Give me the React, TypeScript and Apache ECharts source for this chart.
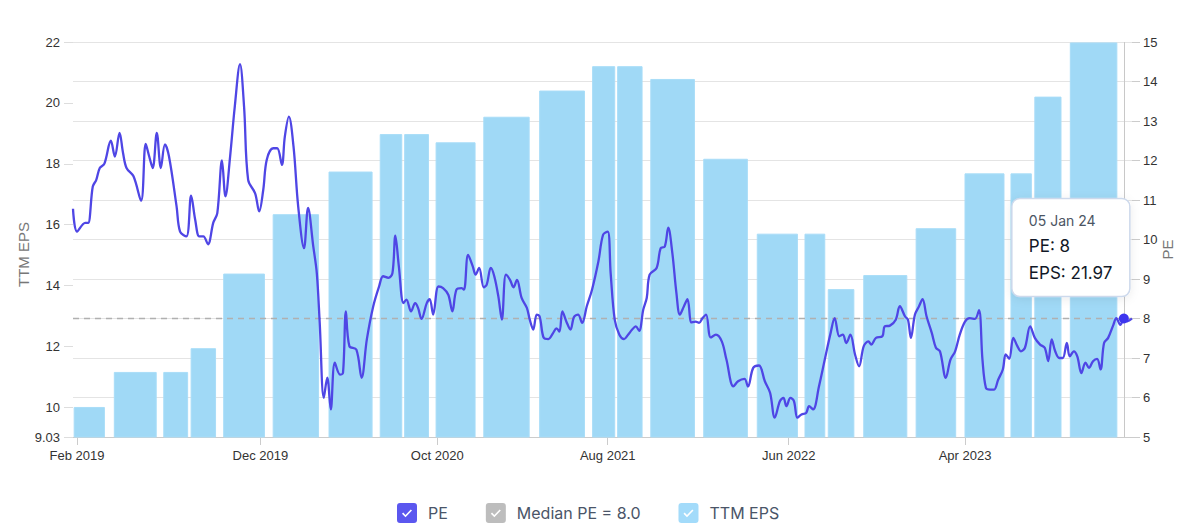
import React, { useEffect, useRef } from 'react';
import * as echarts from 'echarts';

// ---------- data ----------
const START_DATE = '2019-01-25';
const DAY_MS = 86400000;

// PE ratio: [days since START_DATE, PE]
const pePoints: [number, number][] = [
  [0, 10.78], [7, 10.2], [21, 10.42], [26, 10.42], [34, 11.34], [40, 11.51], [46, 11.81], [54, 11.92],
  [65, 12.5], [72, 12.1], [80, 12.7], [86, 12.19], [92, 11.81], [104, 11.6], [117, 10.98], [125, 12.42],
  [131, 12.1], [137, 11.81], [144, 12.7], [151, 11.81], [158, 12.41], [165, 12.1], [178, 10.84], [184, 10.2],
  [195, 10.08], [203, 11.11], [210, 10.5], [217, 10.08], [224, 10.08], [232, 9.88], [241, 10.42], [248, 10.67],
  [256, 12.0], [262, 11.09], [270, 12.1], [278, 13.36], [287, 14.44], [294, 13.36], [301, 11.51], [313, 11.17],
  [320, 10.71], [327, 11.26], [333, 12.02], [344, 12.31], [351, 12.31], [359, 11.89], [364, 12.6], [371, 13.11],
  [379, 12.35], [387, 10.84], [397, 9.78], [404, 10.8], [413, 9.82], [419, 9.15], [424, 7.89], [431, 5.99],
  [437, 6.5], [443, 5.7], [450, 6.88], [459, 6.58], [464, 6.62], [469, 8.18], [475, 7.3], [487, 7.21],
  [496, 6.5], [505, 7.47], [516, 8.31], [526, 8.81], [533, 9.07], [542, 9.03], [549, 9.15], [554, 10.1],
  [560, 9.32], [568, 8.39], [573, 8.48], [581, 8.18], [588, 8.39], [593, 8.27], [599, 7.99], [608, 8.39],
  [613, 8.49], [619, 8.1], [628, 8.81], [636, 8.77], [645, 8.6], [652, 8.18], [659, 8.73], [668, 8.77],
  [672, 8.73], [679, 9.61], [687, 9.32], [692, 9.11], [698, 9.28], [706, 8.79], [711, 8.86], [718, 9.28],
  [724, 9.07], [731, 8.56], [737, 7.97], [744, 9.11], [751, 8.98], [757, 8.79], [763, 8.98], [771, 8.52],
  [780, 8.27], [785, 7.97], [791, 7.72], [797, 8.1], [802, 8.05], [809, 7.51], [817, 7.48], [825, 7.63],
  [831, 7.75], [836, 7.67], [841, 8.18], [848, 7.92], [855, 7.72], [861, 8.04], [868, 8.1], [875, 7.89],
  [883, 8.31], [892, 8.73], [903, 9.45], [911, 10.12], [919, 10.2], [924, 9.15], [931, 7.97], [939, 7.59],
  [947, 7.48], [954, 7.59], [961, 7.72], [967, 7.8], [973, 7.69], [980, 8.22], [986, 8.52], [991, 9.11],
  [1003, 9.28], [1010, 9.78], [1017, 9.82], [1023, 10.3], [1030, 9.66], [1037, 8.65], [1043, 8.1], [1050, 8.31],
  [1056, 8.49], [1063, 7.9], [1070, 7.92], [1076, 7.89], [1082, 8.01], [1088, 8.1], [1096, 7.52], [1105, 7.59],
  [1115, 7.42], [1123, 6.96], [1135, 6.28], [1143, 6.41], [1154, 6.47], [1160, 6.28], [1169, 6.75], [1179, 6.81],
  [1189, 6.41], [1198, 6.12], [1206, 5.49], [1215, 5.91], [1221, 5.99], [1226, 5.78], [1233, 5.99], [1239, 5.91],
  [1245, 5.49], [1252, 5.57], [1260, 5.61], [1265, 5.78], [1272, 5.7], [1282, 6.28], [1292, 6.96], [1302, 7.63],
  [1309, 8.01], [1317, 7.55], [1323, 7.59], [1329, 7.38], [1336, 7.59], [1344, 7.09], [1351, 6.79], [1359, 7.3],
  [1367, 7.42], [1372, 7.34], [1380, 7.51], [1391, 7.55], [1395, 7.8], [1404, 7.82], [1414, 7.97], [1421, 8.31],
  [1430, 8.05], [1435, 7.97], [1440, 7.51], [1447, 8.1], [1454, 8.31], [1460, 8.49], [1467, 8.05], [1476, 7.63],
  [1483, 7.26], [1490, 7.17], [1500, 6.5], [1508, 6.96], [1516, 7.17], [1524, 7.59], [1533, 7.92], [1541, 8.01],
  [1550, 7.99], [1557, 8.21], [1563, 6.96], [1569, 6.24], [1576, 6.2], [1583, 6.2], [1590, 6.45], [1598, 6.71],
  [1603, 7.09], [1609, 6.98], [1616, 7.51], [1623, 7.3], [1629, 7.17], [1636, 7.26], [1645, 7.8], [1653, 7.51],
  [1662, 7.34], [1670, 7.26], [1676, 6.92], [1682, 7.47], [1688, 7.17], [1695, 7.0], [1701, 7.0], [1708, 7.38],
  [1713, 7.04], [1720, 7.17], [1726, 7.04], [1733, 6.62], [1740, 6.88], [1746, 6.75], [1753, 6.92], [1760, 6.98],
  [1766, 6.71], [1772, 7.38], [1779, 7.51], [1788, 7.84], [1793, 8.01], [1800, 7.84], [1806, 8.0], [1812, 7.93],
  [1820, 8.0],
];

// TTM EPS blocks: [first day, last day (days since START_DATE), EPS]
const epsBlocks: [number, number, number][] = [
  [2, 54, 10.0], [71, 143, 11.15], [156, 197, 11.15], [203, 245, 11.93], [259, 329, 14.38],
  [344, 422, 16.33], [440, 514, 17.73], [528, 565, 18.96], [570, 611, 18.96], [624, 691, 18.69],
  [706, 784, 19.53], [802, 879, 20.39], [893, 931, 21.19], [936, 978, 21.19], [993, 1068, 20.77],
  [1084, 1159, 18.15], [1176, 1245, 15.69], [1258, 1292, 15.69], [1298, 1342, 13.87], [1359, 1433, 14.33],
  [1449, 1517, 15.87], [1533, 1600, 17.67], [1612, 1647, 17.67], [1653, 1698, 20.19], [1714, 1794, 21.97],
];

const medianPE = 8.0;
const hoverDay = 1806; // 05 Jan 24
const xTickDates = ['2019-02-01', '2019-12-13', '2020-10-12', '2021-08-01', '2022-06-08', '2023-04-07'];
const epsAxisMin = 9.03;
const epsAxisMax = 22;
const peAxisMin = 5;
const peAxisMax = 15;

const MONTHS = ['Jan', 'Feb', 'Mar', 'Apr', 'May', 'Jun', 'Jul', 'Aug', 'Sep', 'Oct', 'Nov', 'Dec'];

// ---------- helpers ----------
const startTs = Date.parse(START_DATE + 'T00:00:00Z');
const dayToTs = (d: number) => startTs + d * DAY_MS;
const fmtMonthYear = (v: number) => {
  const dt = new Date(v);
  return `${MONTHS[dt.getUTCMonth()]} ${dt.getUTCFullYear()}`;
};
const fmtTipDate = (v: number) => {
  const dt = new Date(v);
  const dd = String(dt.getUTCDate()).padStart(2, '0');
  const yy = String(dt.getUTCFullYear() % 100).padStart(2, '0');
  return `${dd} ${MONTHS[dt.getUTCMonth()]} ${yy}`;
};

// rounded check-box icon (check cut out)
const CHECK_ICON =
  'path://M3 0H17Q20 0 20 3V17Q20 20 17 20H3Q0 20 0 17V3Q0 0 3 0Z M5 10.8L8.5 14.3L15 7.6L13.8 6.4L8.5 11.9L6.2 9.6Z';

const AXIS_FONT = '"Liberation Sans", Arial, Helvetica, sans-serif';
const UI_FONT = 'Inter, "Noto Sans", sans-serif';

export default function App() {
  const ref = useRef<HTMLDivElement>(null);

  useEffect(() => {
    if (!ref.current) return;
    const chart = echarts.init(ref.current, null, { renderer: 'svg' });

    const peData = pePoints.map(([d, v]) => [dayToTs(d), v]);
    const epsData = epsBlocks.map(([s, e, v]) => [dayToTs(s), dayToTs(e), v]);
    const firstTs = dayToTs(pePoints[0][0]);
    const lastTs = dayToTs(pePoints[pePoints.length - 1][0]);
    const hoverTs = dayToTs(hoverDay);
    const hoverPoint = pePoints.find((p) => p[0] === hoverDay)!;
    const hoverEps = [...epsBlocks].filter((b) => b[0] <= hoverDay).pop()!;
    const tickTs = xTickDates.map((s) => Date.parse(s + 'T00:00:00Z'));
    const medianName = `Median PE = ${medianPE.toFixed(1)}`;

    chart.setOption({
      animation: false,
      backgroundColor: '#ffffff',
      grid: { left: 73, right: 68, top: 42, bottom: 94, outerBoundsMode: 'none' },
      legend: {
        left: 397,
        top: 503,
        padding: 0,
        icon: CHECK_ICON,
        itemWidth: 20,
        itemHeight: 20,
        itemGap: 38,
        selectedMode: false,
        textStyle: { fontFamily: UI_FONT, fontSize: 16, color: '#4a5568', padding: [0, 0, 0, 6] },
        data: [
          { name: 'PE', itemStyle: { color: '#5b57ef', borderWidth: 0 } },
          { name: medianName, itemStyle: { color: '#bdbdbd', borderWidth: 0 } },
          { name: 'TTM EPS', itemStyle: { color: '#a3dbfa', borderWidth: 0 } },
        ],
      },
      xAxis: {
        type: 'value',
        min: firstTs,
        max: lastTs,
        scale: true,
        axisLine: { show: true, lineStyle: { color: '#cccccc', width: 1 } },
        axisTick: { show: true, length: 8, customValues: tickTs, lineStyle: { color: '#cccccc' } },
        axisLabel: {
          customValues: tickTs,
          formatter: (v: number) => fmtMonthYear(v),
          color: '#333333',
          fontSize: 13,
          fontFamily: AXIS_FONT,
          margin: 12,
        },
        splitLine: { show: false },
      },
      yAxis: [
        {
          type: 'value',
          position: 'left',
          min: epsAxisMin,
          max: epsAxisMax,
          splitNumber: 6,
          minInterval: 2,
          maxInterval: 2,
          name: 'TTM EPS',
          nameLocation: 'middle',
          nameGap: 42,
          nameMoveOverlap: false,
          nameTextStyle: { color: '#777777', fontSize: 15, fontFamily: AXIS_FONT, padding: [0, 30, 0, 0] },
          axisLine: { show: false },
          axisTick: { show: true, length: 9, lineStyle: { color: '#dddddd' } },
          axisLabel: { color: '#333333', fontSize: 13, fontFamily: AXIS_FONT, margin: 13 },
          splitLine: { show: false },
        },
        {
          type: 'value',
          position: 'right',
          min: peAxisMin,
          max: peAxisMax,
          interval: 1,
          name: 'PE',
          nameLocation: 'middle',
          nameGap: 28,
          nameMoveOverlap: false,
          nameTextStyle: { color: '#777777', fontSize: 15, fontFamily: AXIS_FONT, padding: [0, 20, 0, 0] },
          axisLine: { show: false },
          axisTick: { show: true, length: 8, lineStyle: { color: '#cccccc' } },
          axisLabel: { color: '#333333', fontSize: 13, fontFamily: AXIS_FONT, margin: 11 },
          splitLine: { show: true, lineStyle: { color: '#e4e4e4', width: 1 } },
        },
      ],
      series: [
        {
          name: 'TTM EPS',
          type: 'custom',
          xAxisIndex: 0,
          yAxisIndex: 0,
          encode: { x: [0, 1], y: 2 },
          data: epsData,
          silent: true,
          z: 1,
          renderItem: (params: any, api: any) => {
            const p0 = api.coord([api.value(0), api.value(2)]);
            const p1 = api.coord([api.value(1), api.value(2)]);
            const cs = params.coordSys;
            const bottom = cs.y + cs.height;
            return {
              type: 'rect',
              shape: { x: p0[0], y: p0[1], width: p1[0] - p0[0], height: bottom - p0[1] },
              style: { fill: '#a0d9f6', stroke: '#a9ddf8', lineWidth: 1 },
            };
          },
        },
        {
          name: medianName,
          type: 'line',
          yAxisIndex: 1,
          data: [
            [firstTs, medianPE],
            [lastTs, medianPE],
          ],
          symbol: 'none',
          silent: true,
          z: 2,
          lineStyle: { color: '#b0b0b0', width: 1.5, type: [6, 5] },
          itemStyle: { color: '#bdbdbd' },
          markLine: {
            silent: true,
            symbol: ['none', 'none'],
            label: { show: false },
            lineStyle: { color: '#c8c8c8', width: 1, type: 'solid' },
            data: [{ xAxis: hoverTs }],
          },
        },
        {
          name: 'PE',
          type: 'line',
          yAxisIndex: 1,
          data: peData,
          smooth: 0.35,
          symbol: 'none',
          silent: true,
          z: 3,
          lineStyle: { color: '#4f46e5', width: 2.3 },
          itemStyle: { color: '#4f46e5' },
          markPoint: {
            silent: true,
            symbol: 'circle',
            symbolSize: 10,
            label: { show: false },
            itemStyle: { color: '#3d35ee' },
            data: [{ coord: [hoverTs, hoverPoint[1]] }],
          },
        },
      ],
    });

    const [px, py] = chart.convertToPixel({ seriesIndex: 2 }, [hoverTs, hoverPoint[1]]) as number[];
    const bx = px - 112;
    const by = py - 120;
    const tipText = (text: string, dy: number, size: number, fill: string) => ({
      type: 'text',
      x: bx + 17,
      y: by + dy,
      z: 101,
      silent: true,
      style: { text, fontSize: size, fill, fontFamily: UI_FONT, verticalAlign: 'middle' },
    });
    chart.setOption({
      graphic: [
        {
          type: 'rect',
          x: bx,
          y: by,
          z: 100,
          silent: true,
          shape: { x: 0, y: 0, width: 118, height: 98, r: 8 },
          style: {
            fill: '#ffffff',
            stroke: '#cdd9ec',
            lineWidth: 1.5,
            shadowBlur: 10,
            shadowColor: 'rgba(0,0,0,0.08)',
            shadowOffsetY: 2,
          },
        },
        tipText(fmtTipDate(hoverTs), 22, 14, '#4b5563'),
        tipText(`PE: ${hoverPoint[1]}`, 47, 17, '#111827'),
        tipText(`EPS: ${hoverEps[2]}`, 74, 17, '#111827'),
      ],
    });

    return () => chart.dispose();
  }, []);

  return (
    <div
      ref={ref}
      style={{ position: 'fixed', left: 0, top: 0, width: 1200, height: 531, background: '#fff' }}
    />
  );
}
